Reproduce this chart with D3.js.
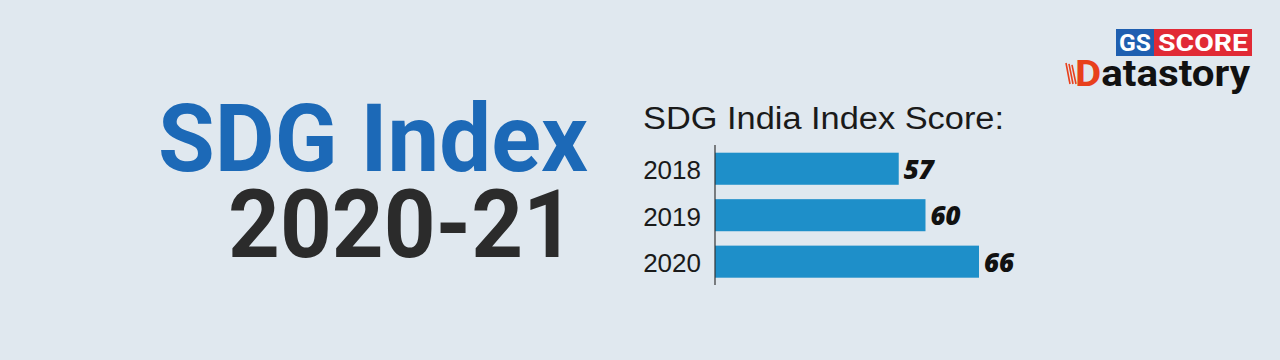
<!DOCTYPE html>
<html>
<head>
<meta charset="utf-8">
<script src="https://cdn.jsdelivr.net/npm/d3@7"></script>
<style>
  html, body { margin: 0; padding: 0; background: #e0e8ef; }
  svg { display: block; }
</style>
</head>
<body>
<svg id="chart" width="1280" height="360"></svg>
<script>
// ---- data ----
const years = ["2018", "2019", "2020"];
const scores = [57, 60, 66];
const chartTitle = "SDG India Index Score:";
const headlineLine1 = "SDG Index";
const headlineLine2 = "2020-21";

const svg = d3.select("#chart");
svg.append("rect").attr("width", 1280).attr("height", 360).attr("fill", "#e0e8ef");

// ---- headline ----
svg.append("text")
  .attr("x", 158).attr("y", 171)
  .attr("font-family", "Roboto").attr("font-weight", 700)
  .attr("font-size", 95).attr("fill", "#1c69b7")
  .attr("textLength", 430).attr("lengthAdjust", "spacingAndGlyphs")
  .text(headlineLine1);
svg.append("text")
  .attr("x", 228).attr("y", 257)
  .attr("font-family", "Roboto").attr("font-weight", 700)
  .attr("font-size", 95).attr("fill", "#2b2b2b")
  .attr("textLength", 347).attr("lengthAdjust", "spacingAndGlyphs")
  .text(headlineLine2);

// ---- bar chart ----
const x0 = 715;
const x = d3.scaleLinear().domain([36.4, 66]).range([x0, 979]);
const y = d3.scaleBand().domain(years).range([145.5, 284.9]).paddingInner(0.31).paddingOuter(0.155);

svg.append("text")
  .attr("x", 643).attr("y", 129)
  .attr("font-family", "Liberation Sans, Arial").attr("font-size", 31)
  .attr("fill", "#1a1a1a")
  .attr("textLength", 361).attr("lengthAdjust", "spacingAndGlyphs")
  .text(chartTitle);

const data = years.map((yr, i) => ({ yr, v: scores[i] }));

svg.selectAll("rect.bar").data(data).join("rect")
  .attr("class", "bar")
  .attr("x", x0)
  .attr("y", d => y(d.yr))
  .attr("width", d => x(d.v) - x0)
  .attr("height", y.bandwidth())
  .attr("fill", "#1e8fc9");

const yAxis = d3.axisLeft(y).tickSize(0).tickPadding(14);
const gy = svg.append("g").attr("transform", `translate(${x0},0)`).call(yAxis);
gy.select(".domain").remove();
gy.selectAll("text")
  .attr("font-family", "Liberation Sans, Arial").attr("font-size", 26)
  .attr("dy", "0.4em")
  .attr("fill", "#1a1a1a");

svg.append("line")
  .attr("x1", x0).attr("x2", x0).attr("y1", 145).attr("y2", 285)
  .attr("stroke", "#333").attr("stroke-width", 1.2);

svg.selectAll("text.val").data(data).join("text")
  .attr("class", "val")
  .attr("x", d => x(d.v) + 5)
  .attr("y", d => y(d.yr) + y.bandwidth() / 2 + 10)
  .attr("font-family", "Open Sans").attr("font-weight", 800).attr("font-style", "italic")
  .attr("font-size", 26).attr("fill", "#111")
  .text(d => d.v);

// ---- logo ----
const logo = svg.append("g");
logo.append("rect").attr("x", 1116).attr("y", 29).attr("width", 38).attr("height", 27).attr("fill", "#1f5fb0");
logo.append("rect").attr("x", 1154).attr("y", 29).attr("width", 98).attr("height", 27).attr("fill", "#e12a35");
logo.append("text").attr("x", 1135).attr("y", 51).attr("text-anchor", "middle")
  .attr("font-family", "Roboto").attr("font-weight", 700).attr("font-size", 24).attr("fill", "#fff")
  .attr("textLength", 32).attr("lengthAdjust", "spacingAndGlyphs").text("GS");
logo.append("text").attr("x", 1203).attr("y", 51).attr("text-anchor", "middle")
  .attr("font-family", "Roboto").attr("font-weight", 700).attr("font-size", 24).attr("fill", "#fff")
  .attr("textLength", 90).attr("lengthAdjust", "spacingAndGlyphs").text("SCORE");
// book pages
[0, 3, 6].forEach(o => {
  logo.append("path")
    .attr("d", `M${1066 + o},${63 + o * 0.3} L${1070 + o},${84}`)
    .attr("stroke", "#e8401c").attr("stroke-width", 1.6).attr("fill", "none");
});
const dst = logo.append("text").attr("x", 1075).attr("y", 86)
  .attr("font-family", "Roboto").attr("font-weight", 700).attr("font-size", 36)
  .attr("textLength", 175).attr("lengthAdjust", "spacingAndGlyphs");
dst.append("tspan").attr("fill", "#e8401c").text("D");
dst.append("tspan").attr("fill", "#111").text("atastory");
</script>
</body>
</html>
